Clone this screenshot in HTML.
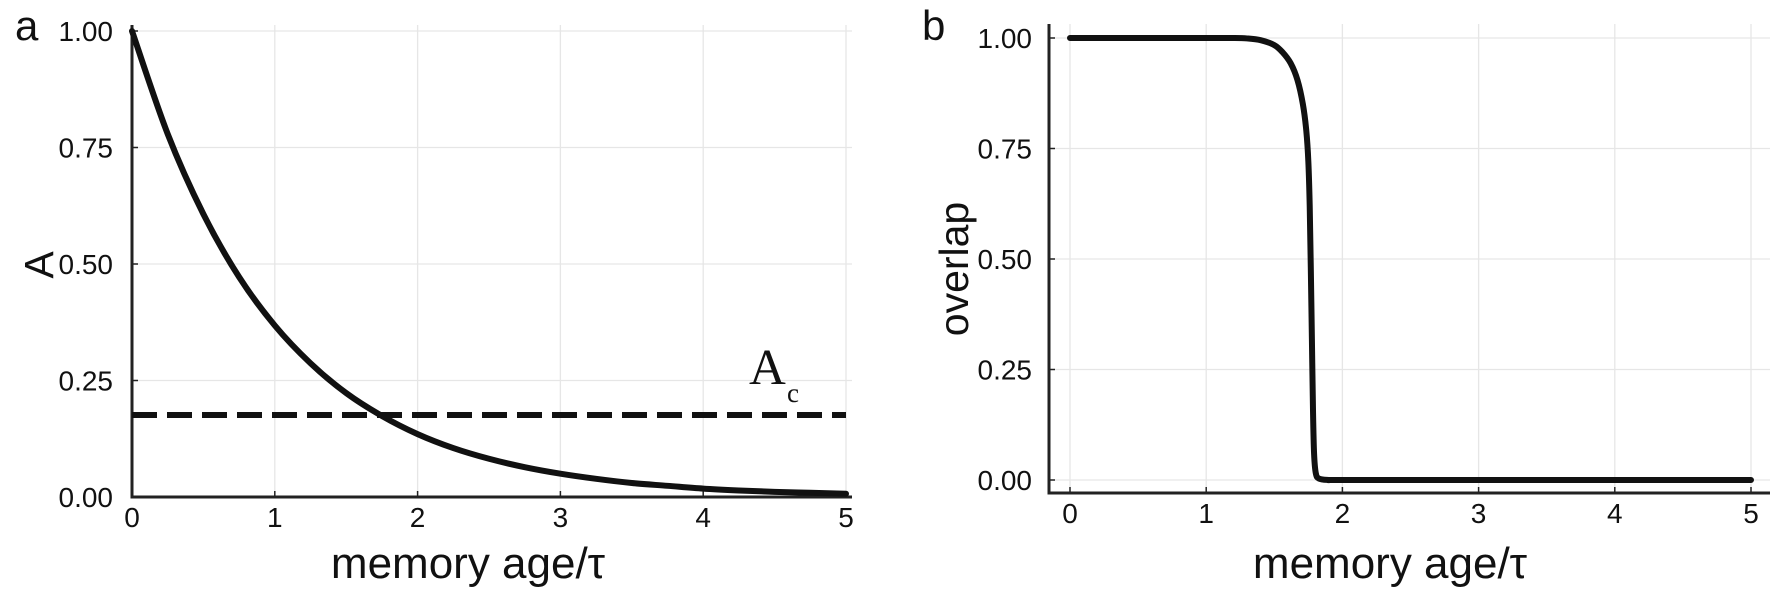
<!DOCTYPE html>
<html><head><meta charset="utf-8"><style>
html,body{margin:0;padding:0;background:#fff}
svg{display:block}
text{font-family:"Liberation Sans",Arial,sans-serif;fill:#111}
</style></head><body>
<svg id="fig" width="1773" height="591" viewBox="0 0 1773 591" xmlns="http://www.w3.org/2000/svg"></svg>
<script>
// Panel a data
const aX = [0,0.25,0.5,0.75,1,1.25,1.5,1.75,2,2.25,2.5,2.75,3,3.25,3.5,3.75,4,4.25,4.5,4.75,5];
const aY = [1,0.779,0.607,0.472,0.368,0.287,0.223,0.174,0.135,0.105,0.082,0.064,0.050,0.039,0.030,0.024,0.018,0.014,0.011,0.009,0.007];
const aThreshold = [0.176];
// Panel b data
const bX = [0,0.5,1,1.2,1.3,1.4,1.5,1.56,1.62,1.67,1.71,1.735,1.75,1.76,1.768,1.776,1.784,1.792,1.805,1.83,1.9,2,3,4,5];
const bY = [1,1,1,1,0.999,0.995,0.984,0.968,0.943,0.905,0.85,0.79,0.72,0.62,0.48,0.32,0.16,0.06,0.015,0.003,0,0,0,0,0];
const xTicks = [0,1,2,3,4,5];
const yTicks = [0,0.25,0.5,0.75,1];
const yTickLabels = ["0.00","0.25","0.50","0.75","1.00"];

const NS="http://www.w3.org/2000/svg";
const svg=document.getElementById('fig');
function mk(tag,attrs,parent){const e=document.createElementNS(NS,tag);for(const k in attrs)e.setAttribute(k,attrs[k]);(parent||svg).appendChild(e);return e;}
function smooth(pts){let d=`M${pts[0][0]},${pts[0][1]}`;for(let i=0;i<pts.length-1;i++){const p0=pts[Math.max(0,i-1)],p1=pts[i],p2=pts[i+1],p3=pts[Math.min(pts.length-1,i+2)];const c1=[p1[0]+(p2[0]-p0[0])/6,p1[1]+(p2[1]-p0[1])/6];const c2=[p2[0]-(p3[0]-p1[0])/6,p2[1]-(p3[1]-p1[1])/6];d+=` C${c1[0]},${c1[1]} ${c2[0]},${c2[1]} ${p2[0]},${p2[1]}`;}return d;}

function panel(cfg){
  const g=mk('g',{});
  
  
  const xs=v=>cfg.x0+v*cfg.xs, ys=v=>cfg.y0-v*cfg.ys;
  xTicks.forEach(t=>{const l=mk('line',{x1:xs(t),x2:xs(t),y1:cfg.top,y2:cfg.axisY,stroke:'#e6e6e6','stroke-width':1.3},g);
    });
  yTicks.forEach(t=>{const l=mk('line',{x1:cfg.axisX,x2:cfg.right,y1:ys(t),y2:ys(t),stroke:'#e6e6e6','stroke-width':1.3},g);
    });
  const ax=mk('line',{x1:cfg.axisX,x2:cfg.axisX,y1:cfg.top,y2:cfg.axisY+1.5,stroke:'#222','stroke-width':3},g);
  
  const bx=mk('line',{x1:cfg.axisX,x2:cfg.right,y1:cfg.axisY,y2:cfg.axisY,stroke:'#222','stroke-width':3},g);
  
  xTicks.forEach(t=>{mk('line',{x1:xs(t),x2:xs(t),y1:cfg.axisY,y2:cfg.axisY-6,stroke:'#222','stroke-width':1.5},g);
    const tx=mk('text',{x:xs(t),y:cfg.axisY+30,'text-anchor':'middle','font-size':28},g);tx.textContent=t;
    });
  yTicks.forEach((t,i)=>{mk('line',{x1:cfg.axisX,x2:cfg.axisX+6,y1:ys(t),y2:ys(t),stroke:'#222','stroke-width':1.5},g);
    const tx=mk('text',{x:cfg.labelRight,y:ys(t)+10,'text-anchor':'end','font-size':28},g);tx.textContent=yTickLabels[i];
    });
  const pts=cfg.X.map((v,i)=>[xs(v),ys(cfg.Y[i])]);
  const p=mk('path',{d:smooth(pts),fill:'none',stroke:'#111','stroke-width':6,'stroke-linecap':'round','stroke-linejoin':'round'},g);
  
  const xl=mk('text',{x:cfg.xlabelX,y:578,'text-anchor':'middle','font-size':44},g);xl.textContent='memory age/τ';
  
  const yl=mk('text',{x:0,y:0,'text-anchor':'middle','font-size':41,transform:`translate(${cfg.ylabelX},${cfg.ylabelY}) rotate(-90)`},g);yl.textContent=cfg.ylabel;
  
  const pl=mk('text',{x:cfg.letterX,y:40,'font-size':42},g);pl.textContent=cfg.letter;
  
  return {xs,ys,g};
}

const A=panel({name:'panel-a',x0:132,xs:142.8,y0:497,ys:466,top:25,axisX:132,axisY:497,right:852,labelRight:113,
  X:aX,Y:aY,curveName:'decay-curve',xlabelX:468,ylabel:'A',ylabelX:53,ylabelY:265,letter:'a',letterX:15});
const dl=mk('line',{x1:A.xs(0),x2:A.xs(5),y1:A.ys(aThreshold[0]),y2:A.ys(aThreshold[0]),stroke:'#111','stroke-width':6,'stroke-dasharray':'25 10'},A.g);

const ac=mk('text',{x:749,y:384,'font-size':51,style:'font-family:"Liberation Serif",serif'},A.g);
ac.textContent='A';

const acs=mk('text',{x:787,y:402,'font-size':27,style:'font-family:"Liberation Serif",serif'},A.g);
acs.textContent='c';


panel({name:'panel-b',x0:1070,xs:136.2,y0:480,ys:442,top:24,axisX:1049,axisY:493,right:1770,labelRight:1032,
  X:bX,Y:bY,curveName:'overlap-curve',xlabelX:1390,ylabel:'overlap',ylabelX:968,ylabelY:269,letter:'b',letterX:922});
</script>
</body></html>
